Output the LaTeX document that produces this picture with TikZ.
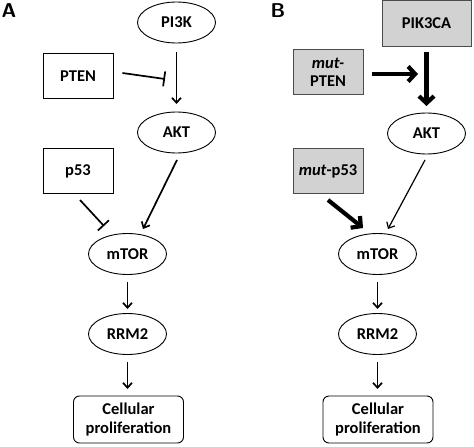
\documentclass[tikz,border=0pt]{standalone}
\usepackage{fontspec}
\setmainfont{Carlito}
\usetikzlibrary{shapes.geometric,arrows.meta}
\definecolor{boxgray}{RGB}{210,210,210}
\tikzset{
  lbl/.style={font=\bfseries\fontsize{16.5}{18}\selectfont},
  oval/.style={ellipse,draw,line width=0.9pt,inner sep=0pt,minimum width=78pt,minimum height=41pt,lbl},
  sqbox/.style={rectangle,draw,line width=0.9pt,inner sep=0pt,minimum width=70pt,minimum height=45pt,lbl,align=center},
  graybox/.style={sqbox,fill=boxgray,draw=black!70},
  endbox/.style={rectangle,rounded corners=6pt,draw,line width=0.9pt,inner sep=0pt,minimum width=110pt,minimum height=47pt,align=center,font=\bfseries\fontsize{16.5}{19.5}\selectfont},
  thin/.style={line width=1.7pt,-{Straight Barb[length=5pt,width=9pt,line width=1.7pt]}},
  thick/.style={line width=4.2pt,-{Straight Barb[length=7pt,width=15pt,line width=4.2pt]}},
  inhib/.style={line width=1.7pt,-{Bar[width=15pt,line width=1.7pt]}},
  panel/.style={font=\sffamily\bfseries\fontsize{20}{22}\selectfont,inner sep=0pt}
}
\begin{document}
\begin{tikzpicture}[x=1pt,y=-1pt]
\useasboundingbox (0,0) rectangle (474,447);
% Panel A
\node[panel] (A) at (9,11) {A};
\node[oval] (pi3k) at (176.5,22.5) {PI3K};
\node[sqbox] (pten) at (78,76) {PTEN};
\node[oval] (aktA) at (176.5,132.5) {AKT};
\node[sqbox] (p53) at (78,171) {p53};
\node[oval] (mtorA) at (127.5,254) {mTOR};
\node[oval] (rrmA) at (127.5,334) {RRM2};
\node[endbox] (cpA) at (128.5,419.5) {Cellular\\proliferation};
\coordinate (ptenEnd) at (165,79);
\coordinate (p53End) at (104,226);
\draw[thin] (pi3k.south |- 0,52) -- (aktA.north |- 0,104);
\draw[inhib] ([xshift=9pt,yshift=3pt]pten.east) -- (ptenEnd);
\draw[inhib] (80,200) -- (p53End);
\draw[thin] (177,160) -- (143,229);
\draw[thin] (mtorA.south |- 0,282) -- (mtorA.south |- 0,309);
\draw[thin] (rrmA.south |- 0,362) -- (rrmA.south |- 0,389);
% Panel B
\node[panel] (B) at (278,11) {B};
\node[graybox,minimum width=89pt,minimum height=46pt] (pik) at (426.5,23.5) {PIK3CA};
\node[graybox] (mpten) at (328,72) {\textit{mut-}\\PTEN};
\node[oval] (aktB) at (426.5,133.5) {AKT};
\node[graybox] (mp53) at (328,171) {\textit{mut}-p53};
\node[oval] (mtorB) at (377.5,254) {mTOR};
\node[oval] (rrmB) at (377.5,334) {RRM2};
\node[endbox] (cpB) at (378,419.5) {Cellular\\proliferation};
\coordinate (mptenEnd) at (418,74);
\draw[thick] (372,74) -- (mptenEnd);
\draw[thick] (pik.south |- 0,52) -- (aktB.north |- 0,106);
\draw[thick] (328,200) -- (363,228);
\draw[line width=1.2pt,-{Straight Barb[length=5pt,width=9pt,line width=1.2pt]}] (425,160) -- (388,229);
\draw[thin] (mtorB.south |- 0,282) -- (mtorB.south |- 0,309);
\draw[thin] (rrmB.south |- 0,362) -- (rrmB.south |- 0,389);
\end{tikzpicture}
\end{document}
